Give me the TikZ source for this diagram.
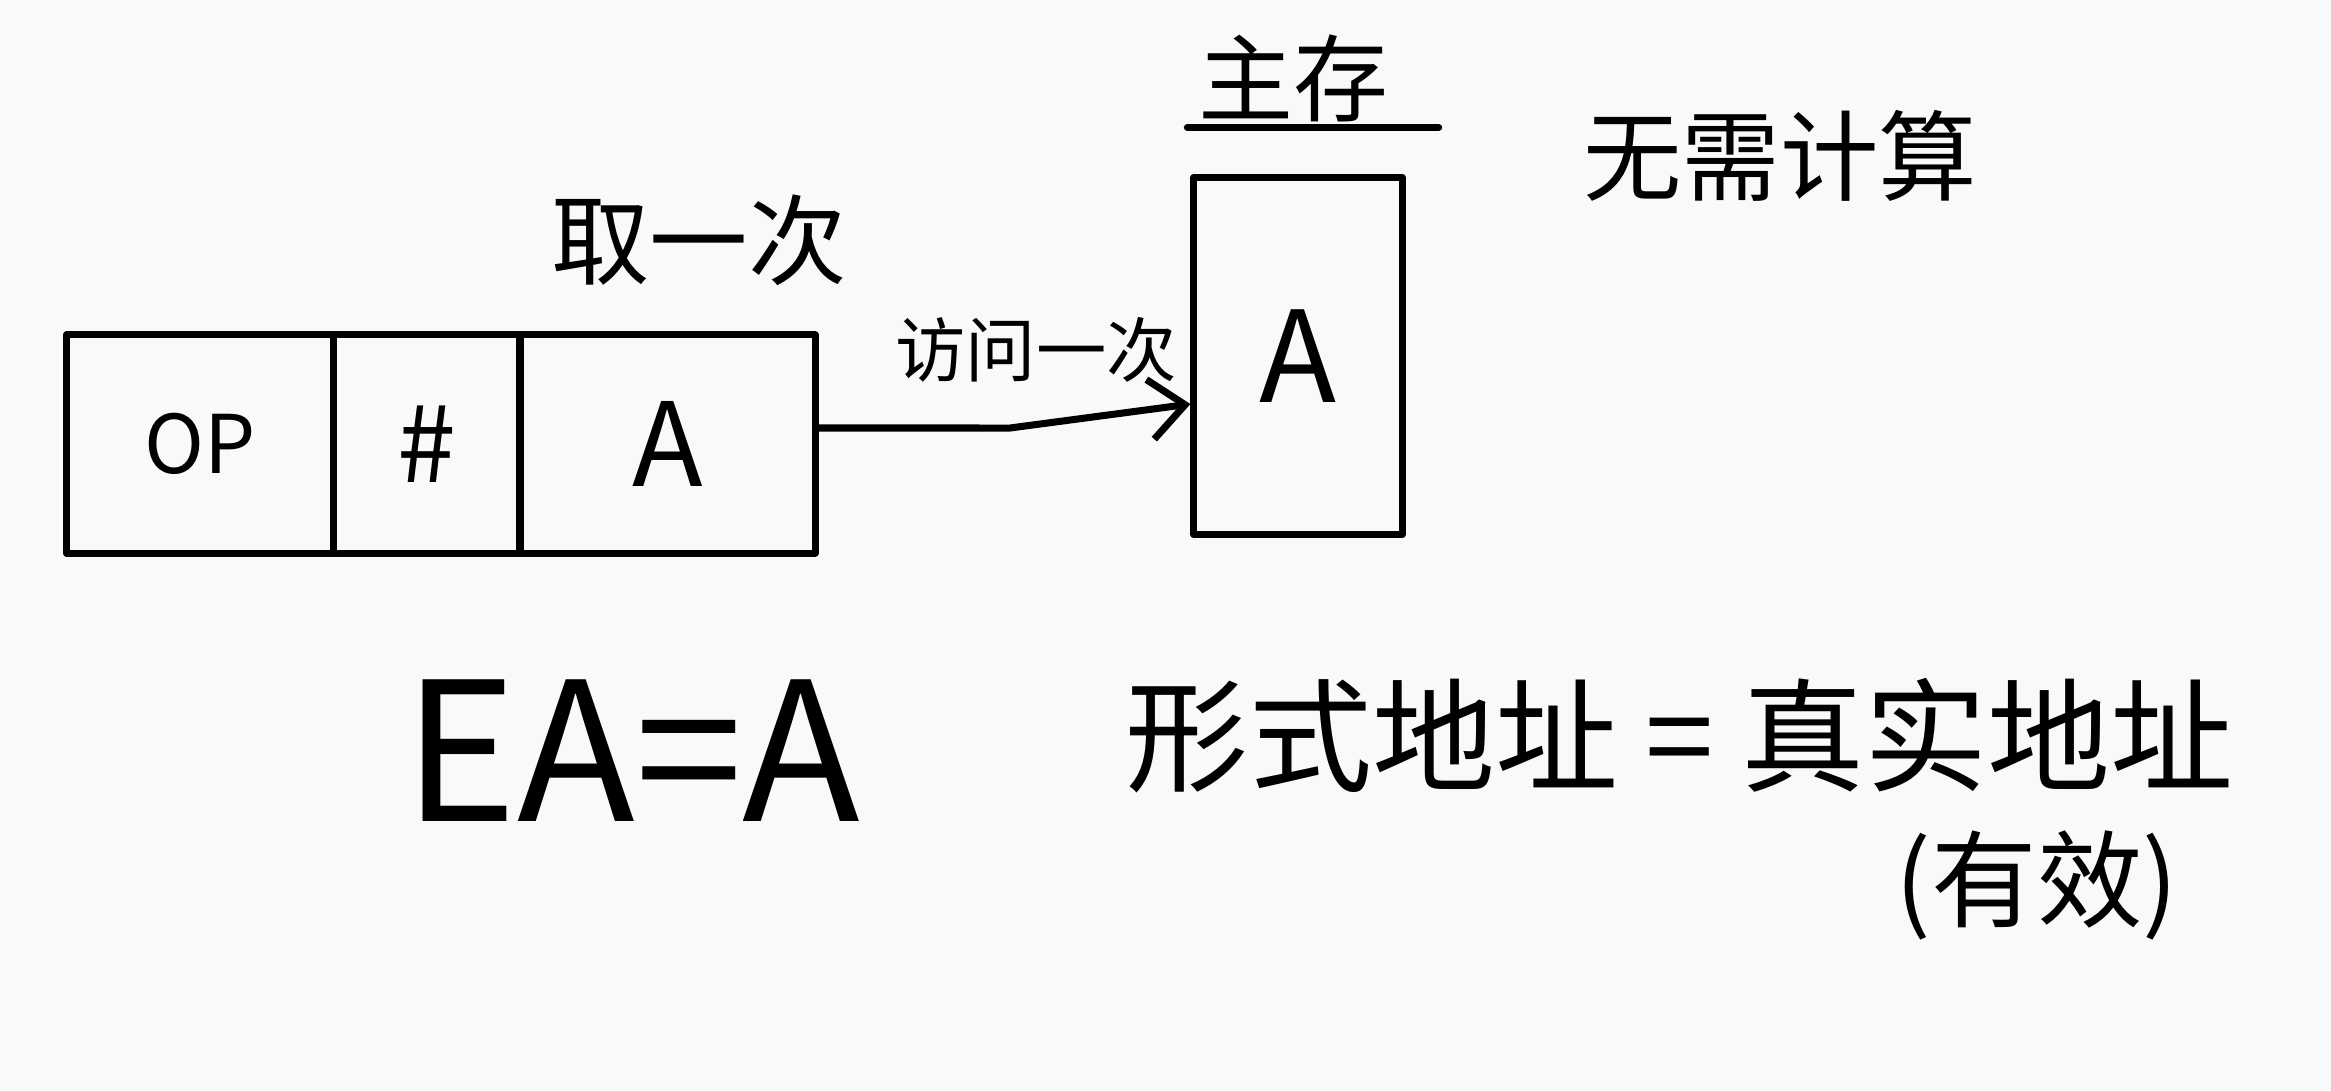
\documentclass[tikz,border=0pt]{standalone}
\usepackage{fontspec}
\newfontfamily\cjk{Noto Sans CJK SC}
\usetikzlibrary{arrows.meta}
\definecolor{bgc}{HTML}{F8F9FB}
\tikzset{
  ink/.style={line width=2pt, line cap=round, line join=round, draw=black},
  cell/.style={ink, rectangle, minimum height=2.18cm, inner sep=0pt, font=\cjk},
  txt/.style={inner sep=0pt, font=\cjk},
}
\begin{document}
\begin{tikzpicture}[x=0.01cm, y=-0.01cm]
  \fill[bgc] (0,0) rectangle (2331,1090);
  \useasboundingbox (0,0) rectangle (2331,1090);
  % instruction
  \node[cell, minimum width=2.67cm, font=\cjk\fontsize{23}{27}\selectfont] (op) at (200,444) {OP};
  \node[cell, minimum width=1.86cm, font=\cjk\fontsize{30}{34}\selectfont] (hash) at (427,444) {\#};
  \node[cell, minimum width=2.95cm, font=\cjk\fontsize{33}{38}\selectfont] (addr) at (667.5,444) {A};
  \node[txt, font=\cjk\fontsize{28}{32}\selectfont] (fetch) at (699,240) {取一次};
  % main memory
  \node[ink, rectangle, minimum width=2.08cm, minimum height=3.57cm, inner sep=0pt, font=\cjk\fontsize{36}{40}\selectfont] (mem) at (1298,356) {A};
  \node[txt, font=\cjk\fontsize{27}{31}\selectfont] (zhu) at (1293,78) {主存};
  \draw[ink] ([xshift=-0.1cm, yshift=-0.05cm]zhu.south west) -- ([xshift=0.5cm, yshift=-0.05cm]zhu.south east);
  \node[txt, font=\cjk\fontsize{28}{32}\selectfont] (nocalc) at (1780,156) {无需计算};
  % arrow
  \coordinate (bend) at (1010,428);
  \draw[ink, -{Straight Barb[length=0.35cm, width=0.6cm]}] ([yshift=0.16cm]addr.east) -- (bend) -- ([yshift=-0.48cm]mem.west);
  \node[txt, font=\cjk\fontsize{20}{24}\selectfont] (visit) at (1036,350) {访问一次};
  % formulas
  \node[txt, font=\cjk\fontsize{55}{60}\selectfont] (ea) at (632,751) {EA=A};
  \node[txt, font=\cjk\fontsize{35}{40}\selectfont] (eq) at (1680,736) {形式地址 = 真实地址};
  \node[txt, font=\cjk\fontsize{30}{34}\selectfont] (eff) at (2037,885) {(有效)};
\end{tikzpicture}
\end{document}
